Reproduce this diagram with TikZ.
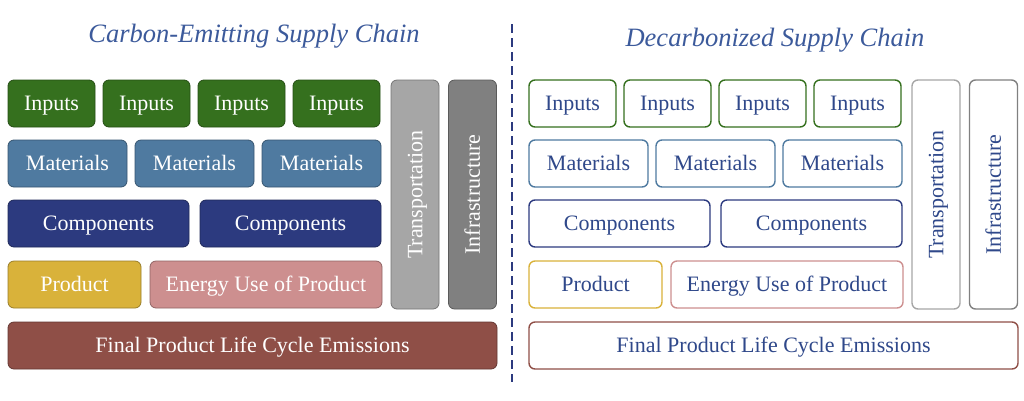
\documentclass[tikz,border=0pt]{standalone}
\usepackage{fontspec}
\setmainfont{Liberation Serif}
\usepackage{xcolor}
\usepackage{tikz}
\usetikzlibrary{positioning}
\definecolor{inputsgreen}{RGB}{53, 112, 30}
\definecolor{materialsblue}{RGB}{79, 122, 160}
\definecolor{componentsnavy}{RGB}{44, 58, 127}
\definecolor{productgold}{RGB}{217, 178, 58}
\definecolor{energypink}{RGB}{205, 143, 143}
\definecolor{transgray}{RGB}{166, 166, 166}
\definecolor{infragray}{RGB}{128, 128, 128}
\definecolor{finalbrown}{RGB}{143, 79, 71}
\definecolor{textnavy}{RGB}{47, 72, 138}
\definecolor{titleblue}{RGB}{60, 90, 155}

\begin{document}
\begin{tikzpicture}[x=1pt, y=-1pt, node distance=8pt,
   blk/.style={rounded corners=6pt, inner sep=0pt, outer sep=0pt,
               text height=16pt, text depth=1.4pt,
               minimum height=47pt, font=\fontsize{22}{26}\selectfont},
   full/.style={blk, fill=#1, draw=#1!70!black, line width=0.8pt, text=white},
   hollow/.style={blk, fill=white, draw=#1, line width=1.4pt, text=textnavy},
   upright/.style={rotate=90, minimum width=229pt, minimum height=48pt},
   title/.style={font=\fontsize{26.5}{30}\selectfont\itshape, text=titleblue}]
  \useasboundingbox (0,0) rectangle (1024,400);

  % carbon-emitting chain
  \node[title] (ltitle) at (254,36) {Carbon-Emitting Supply Chain};
  \node[full=inputsgreen, anchor=north west, minimum width=87pt] (lin1) at (8,80) {Inputs};
  \node[full=inputsgreen, minimum width=87pt, right=of lin1] (lin2) {Inputs};
  \node[full=inputsgreen, minimum width=87pt, right=of lin2] (lin3) {Inputs};
  \node[full=inputsgreen, minimum width=87pt, right=of lin3] (lin4) {Inputs};
  \node[full=materialsblue, anchor=north west, minimum width=119pt] (lmat1) at (8,140) {Materials};
  \node[full=materialsblue, minimum width=119pt, right=of lmat1] (lmat2) {Materials};
  \node[full=materialsblue, minimum width=119pt, right=of lmat2] (lmat3) {Materials};
  \node[full=componentsnavy, anchor=north west, minimum width=181pt] (lcomp1) at (8,200) {Components};
  \node[full=componentsnavy, minimum width=181pt, right=11pt of lcomp1] (lcomp2) {Components};
  \node[full=productgold, anchor=north west, minimum width=133pt] (lprod) at (8,261) {Product};
  \node[full=energypink, minimum width=232pt, right=9pt of lprod] (lenergy) {Energy Use of Product};
  \node[full=transgray, upright] (ltrans) at (415,194.5) {Transportation};
  \node[full=infragray, upright] (linfra) at (472.5,194.5) {Infrastructure};
  \node[full=finalbrown, anchor=north west, minimum width=489pt] (lfinal) at (8,322) {Final Product Life Cycle Emissions};

  \draw[componentsnavy, line width=2.2pt, dash pattern=on 9pt off 5pt] (512,24) -- (512,382);

  % decarbonized chain
  \node[title] (rtitle) at (775,40) {Decarbonized Supply Chain};
  \begin{scope}[xshift=521pt]
    \node[hollow=inputsgreen, anchor=north west, minimum width=87pt] (rin1) at (8,80) {Inputs};
    \node[hollow=inputsgreen, minimum width=87pt, right=of rin1] (rin2) {Inputs};
    \node[hollow=inputsgreen, minimum width=87pt, right=of rin2] (rin3) {Inputs};
    \node[hollow=inputsgreen, minimum width=87pt, right=of rin3] (rin4) {Inputs};
    \node[hollow=materialsblue, anchor=north west, minimum width=119pt] (rmat1) at (8,140) {Materials};
    \node[hollow=materialsblue, minimum width=119pt, right=of rmat1] (rmat2) {Materials};
    \node[hollow=materialsblue, minimum width=119pt, right=of rmat2] (rmat3) {Materials};
    \node[hollow=componentsnavy, anchor=north west, minimum width=181pt] (rcomp1) at (8,200) {Components};
    \node[hollow=componentsnavy, minimum width=181pt, right=11pt of rcomp1] (rcomp2) {Components};
    \node[hollow=productgold, anchor=north west, minimum width=133pt] (rprod) at (8,261) {Product};
    \node[hollow=energypink, minimum width=232pt, right=9pt of rprod] (renergy) {Energy Use of Product};
    \node[hollow=transgray, upright] (rtrans) at (415,194.5) {Transportation};
    \node[hollow=infragray, upright] (rinfra) at (472.5,194.5) {Infrastructure};
    \node[hollow=finalbrown, anchor=north west, minimum width=489pt] (rfinal) at (8,322) {Final Product Life Cycle Emissions};
  \end{scope}
\end{tikzpicture}
\end{document}
